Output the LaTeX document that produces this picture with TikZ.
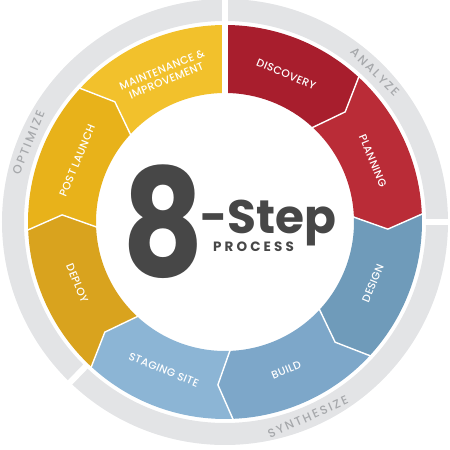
\documentclass[tikz,border=0pt]{standalone}
\usepackage{fontspec}
\setmainfont{Poppins}
\newfontfamily\medfont{Poppins Medium}
\usetikzlibrary{positioning}
\definecolor{stepdiscovery}{HTML}{A81E2D}
\definecolor{stepplanning}{HTML}{BA2C37}
\definecolor{stepdesign}{HTML}{6F9BBA}
\definecolor{stepbuild}{HTML}{7DA7C9}
\definecolor{stepstaging}{HTML}{8CB5D5}
\definecolor{stepdeploy}{HTML}{D9A31E}
\definecolor{steplaunch}{HTML}{E8B21A}
\definecolor{stepmaint}{HTML}{F2C12C}
\definecolor{phasegrey}{HTML}{E3E4E6}
\definecolor{phasetext}{HTML}{A6A8AB}
\definecolor{centertext}{HTML}{474747}
\tikzstyle{steplabel} = [text=white, inner sep=0pt, align=center,
    font=\medfont\fontsize{10.8}{11.5}\selectfont\addfontfeatures{LetterSpace=3}]
\tikzstyle{phaselabel} = [text=phasetext, inner sep=0pt,
    font=\medfont\fontsize{12}{13}\selectfont\addfontfeatures{LetterSpace=17}]
\tikzstyle{gapline} = [white, line width=6pt]
\tikzstyle{sepline} = [white, line width=1.4pt, line join=miter]

\begin{document}
\begin{tikzpicture}[x=1pt, y=1pt]
\useasboundingbox (-225,-228) rectangle (225,222);
% outer phase ring
\fill[phasegrey, even odd rule] (0,0) circle (223) (0,0) circle (201);
\foreach \g in {90,0,226}
  \draw[gapline] (\g:198) -- (\g:226);
% the eight steps
\foreach \a/\col/\ds/\de in {90/stepdiscovery/0/2.5, 45/stepplanning/2.5/2.5,
    0/stepdesign/2.5/2.5, -45/stepbuild/2.5/2.5, -90/stepstaging/2.5/2.5,
    -135/stepdeploy/2.5/2.5, -180/steplaunch/2.5/2.5, -225/stepmaint/2.5/0}
  \fill[\col] ({\a+\ds}:197) arc ({\a+\ds}:{\a-45+\de}:197)
    -- ({\a-45-\de}:163) -- ({\a-45+\de}:129) arc ({\a-45+\de}:{\a+\ds}:129)
    -- ({\a-\ds}:163) -- cycle;
\foreach \b in {45,0,-45,-90,-135,-180,-225}
  \draw[sepline] ({\b+2.5}:199) -- ({\b-2.5}:163) -- ({\b+2.5}:127);
\draw[gapline] (90:126) -- (90:199);
% step labels
\node[steplabel, rotate=-22.5] (discovery) at (67.5:160) {DISCOVERY};
\node[steplabel, rotate=-67.5] (planning) at (22.5:160) {PLANNING};
\node[steplabel, rotate=67.5] (design) at (-22.5:160) {DESIGN};
\node[steplabel, rotate=22.5] (build) at (-67.5:160) {BUILD};
\node[steplabel, rotate=-22.5] (staging) at (-112.5:160) {STAGING SITE};
\node[steplabel, rotate=-67.5] (deploy) at (-157.5:160) {DEPLOY};
\node[steplabel, rotate=67.5] (launch) at (157.5:160) {POST LAUNCH};
\node[steplabel, rotate=22.5] (maint) at (112.5:159) {MAINTENANCE \&\\IMPROVEMENT};
% phase labels
\node[phaselabel, rotate=-45] (analyze) at (45:212) {ANALYZE};
\node[phaselabel, rotate=24] (synthesize) at (-67:212) {SYNTHESIZE};
\node[phaselabel, rotate=68] (optimize) at (158:212) {OPTIMIZE};
% title
\node[text=centertext, inner sep=0pt, font=\bfseries\fontsize{150}{150}\selectfont]
  (eight) at (-62,0) {\scalebox{0.84}[1]{8}};
\node[text=centertext, inner sep=0pt, anchor=base west, font=\bfseries\fontsize{47}{47}\selectfont]
  (step) at (-25,-11) {-Step};
\node[text=centertext, inner sep=0pt, anchor=base west,
  font=\bfseries\fontsize{13.5}{14}\selectfont\addfontfeatures{LetterSpace=23}]
  (process) at (-12,-29.5) {PROCESS};
\end{tikzpicture}
\end{document}
